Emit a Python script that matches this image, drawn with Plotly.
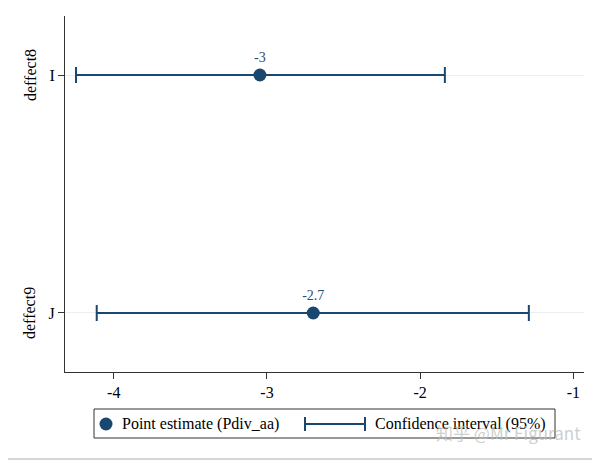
import plotly.graph_objects as go

# Data
categories = ["I", "J"]
group_titles = ["deffect8", "deffect9"]
point_est = [-3.046, -2.698]
ci_lower = [-4.246, -4.111]
ci_upper = [-1.839, -1.291]
point_labels = ["-3", "-2.7"]
x_tickvals = [-4, -3, -2, -1]
x_ticktext = ["-4", "-3", "-2", "-1"]
legend_labels = ["Point estimate (Pdiv_aa)", "Confidence interval (95%)"]

NAVY = "#1a476f"
FONT = "Liberation Serif"

fig = go.Figure()
fig.add_trace(go.Scatter(
    x=point_est, y=categories,
    mode="markers+text",
    text=point_labels, textposition="top center",
    textfont=dict(family=FONT, size=14, color="#2a4d70"),
    marker=dict(size=13, color=NAVY),
    error_x=dict(
        type="data", symmetric=False,
        array=[u - p for u, p in zip(ci_upper, point_est)],
        arrayminus=[p - l for p, l in zip(point_est, ci_lower)],
        color=NAVY, thickness=2, width=8,
    ),
    showlegend=False, cliponaxis=False,
))

# page offset (browser body margin) and figure geometry
OFF = 8
W, H = 592, 452
L, R, T, B = 57, 16, 8, 88
PW, PH = W - L - R, H - T - B


def px(xp):
    return (xp - OFF - L) / PW


def py(yp):
    return (H - B - (yp - OFF)) / PH


shapes = []
annotations = []

# group titles (rotated)
for i, t in enumerate(group_titles):
    annotations.append(dict(
        x=px(30), xref="paper", y=i, yref="y", text=t, textangle=-90,
        showarrow=False, xanchor="center", yanchor="middle",
        font=dict(family=FONT, size=16, color="#000"),
    ))

# manual legend
shapes.append(dict(type="rect", xref="paper", yref="paper",
                   x0=px(94), x1=px(555), y0=py(409), y1=py(438),
                   line=dict(color="#333", width=1), fillcolor="white"))
shapes.append(dict(type="circle", xref="paper", yref="paper",
                   xsizemode="pixel", ysizemode="pixel",
                   xanchor=px(106), yanchor=py(424),
                   x0=-6.5, x1=6.5, y0=-6.5, y1=6.5,
                   fillcolor=NAVY, line=dict(color=NAVY, width=0)))
annotations.append(dict(x=px(120), y=py(424), xref="paper", yref="paper",
                        text=legend_labels[0], showarrow=False,
                        xanchor="left", yanchor="middle",
                        font=dict(family=FONT, size=16, color="#000")))
shapes.append(dict(type="line", xref="paper", yref="paper",
                   x0=px(305), x1=px(365), y0=py(424), y1=py(424),
                   line=dict(color=NAVY, width=2)))
for xx in (305, 365):
    shapes.append(dict(type="line", xref="paper", yref="paper",
                       x0=px(xx), x1=px(xx), y0=py(417), y1=py(431),
                       line=dict(color=NAVY, width=2)))
annotations.append(dict(x=px(373), y=py(424), xref="paper", yref="paper",
                        text=legend_labels[1], showarrow=False,
                        xanchor="left", yanchor="middle",
                        font=dict(family=FONT, size=16, color="#000")))

# watermark
annotations.append(dict(x=px(508), y=py(432), xref="paper", yref="paper",
                        text="知乎 @Mr Figurant", showarrow=False,
                        xanchor="center", yanchor="middle",
                        font=dict(family="Noto Sans CJK SC", size=17,
                                  color="rgba(190,190,190,0.75)")))

# bottom thin border line
shapes.append(dict(type="line", xref="paper", yref="paper",
                   x0=px(0), x1=px(600), y0=py(459), y1=py(459),
                   line=dict(color="#d6d6d6", width=2)))

fig.update_layout(
    width=W, height=H,
    margin=dict(l=L, r=R, t=T, b=B),
    paper_bgcolor="white", plot_bgcolor="white",
    font=dict(family=FONT, size=16, color="#000"),
    shapes=shapes, annotations=annotations,
    showlegend=False,
)
fig.update_xaxes(
    range=[-4.318, -0.931], tickvals=x_tickvals, ticktext=x_ticktext,
    showgrid=False, zeroline=False,
    showline=True, linecolor="#333", linewidth=1,
    ticks="outside", ticklen=6, tickcolor="#333",
    tickfont=dict(family=FONT, size=16, color="#000"),
)
fig.update_yaxes(
    type="category", categoryorder="array", categoryarray=categories,
    range=[1.248, -0.248],
    showgrid=True, gridcolor="#e9eff2", gridwidth=1, zeroline=False,
    showline=True, linecolor="#333", linewidth=1,
    ticks="outside", ticklen=6, tickcolor="#333",
    tickfont=dict(family=FONT, size=16, color="#000"),
)

fig.write_html("out.html")
